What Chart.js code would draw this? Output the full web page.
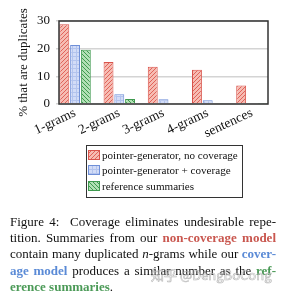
<!DOCTYPE html>
<html>
<head>
<meta charset="utf-8">
<script src="https://cdn.jsdelivr.net/npm/chart.js@4/dist/chart.umd.min.js"></script>
<style>
    body { margin: 0; width: 284px; height: 300px; background: #fff; position: relative; overflow: hidden;
           font-family: 'Liberation Serif', serif; color: #111; }
    #chartBox { position: absolute; left: 0; top: 0; width: 284px; height: 142px; }
    #legend { position: absolute; left: 86px; top: 145px; width: 154px; height: 50px; border: 1px solid #333;
              padding: 1px 0 0 1px; font-size: 11.1px; }
    #legend .row { display: flex; align-items: center; height: 15.5px; white-space: nowrap; }
    #legend canvas { margin-right: 2px; }
    #caption { position: absolute; left: 10px; top: 214px; width: 266px; font-size: 13px; line-height: 16.2px; }
    #caption div { text-align: justify; text-align-last: justify; white-space: nowrap; }
    #caption div.last { text-align-last: left; }
    .red { color: #c9574f; font-weight: bold; }
    .blue { color: #5a8ad6; font-weight: bold; }
    .green { color: #4b9a57; font-weight: bold; }
    #mark { position: absolute; left: 151px; top: 268px; font: 13px 'Noto Sans CJK SC', sans-serif; line-height: 1;
            color: rgba(255,255,255,0.55); -webkit-text-stroke: 0.6px rgba(110,110,110,0.5); white-space: nowrap; }
</style>
</head>
<body>
<div id="chartBox"><canvas id="chart"></canvas></div>
<div id="legend"></div>
<div id="caption">
    <div>Figure 4:&nbsp; Coverage eliminates undesirable repe-</div>
    <div>tition. Summaries from our <span class="red">non-coverage model</span></div>
    <div>contain many duplicated <i>n</i>-grams while our <span class="blue">cover-</span></div>
    <div><span class="blue">age model</span> produces a similar number as the <span class="green">ref-</span></div>
    <div class="last"><span class="green">erence summaries</span>.</div>
</div>
<div id="mark">知乎 @DengBoCong</div>
<script>
// data
const categories = ['1-grams', '2-grams', '3-grams', '4-grams', 'sentences'];
const noCoverage = [28.8, 15.2, 13.5, 12.4, 6.7];
const withCoverage = [21.3, 3.5, 1.7, 1.4, 0.2];
const reference = [19.6, 1.8, 0.3, 0.2, 0.1];
const yTicks = [0, 10, 20, 30];

const seriesNames = ['pointer-generator, no coverage', 'pointer-generator + coverage', 'reference summaries'];

function hatch(bg, line, kind) {
    const c = document.createElement('canvas');
    c.width = 4; c.height = 4;
    const g = c.getContext('2d');
    g.fillStyle = bg;
    g.fillRect(0, 0, 4, 4);
    g.strokeStyle = line;
    g.lineWidth = 1;
    g.beginPath();
    if (kind === 'grid') {
        g.moveTo(0, 0.5); g.lineTo(4, 0.5);
        g.moveTo(0.5, 0); g.lineTo(0.5, 4);
    } else if (kind === 'up') {
        g.moveTo(-1, 5); g.lineTo(5, -1);
        g.moveTo(-1, 1); g.lineTo(1, -1);
        g.moveTo(3, 5); g.lineTo(5, 3);
    } else {
        g.moveTo(-1, -1); g.lineTo(5, 5);
        g.moveTo(3, -1); g.lineTo(5, 1);
        g.moveTo(-1, 3); g.lineTo(1, 5);
    }
    g.stroke();
    return g.createPattern(c, 'repeat');
}

const fills = [
    hatch('#f6bcb3', '#e0645a', 'up'),
    hatch('#d2dcf7', '#b3c4ee', 'grid'),
    hatch('#b2e0b5', '#3f9a4f', 'down')
];
const borders = ['#d9544c', '#6f8fd8', '#3f9a4f'];
const values = [noCoverage, withCoverage, reference];

const framePlugin = {
    id: 'frame',
    afterDatasetsDraw(chart) {
        const { ctx, chartArea: a } = chart;
        ctx.save();
        ctx.strokeStyle = '#333';
        ctx.lineWidth = 1.5;
        ctx.strokeRect(a.left, a.top, a.right - a.left, a.bottom - a.top);
        ctx.restore();
    }
};

const serif = "'Liberation Serif', serif";

const chart = new Chart(document.getElementById('chart'), {
    type: 'bar',
    data: {
        labels: categories,
        datasets: values.map((vals, i) => ({
            label: seriesNames[i],
            data: vals.map((v, j) => ({ x: j, y: v })),
            backgroundColor: fills[i],
            borderColor: borders[i],
            borderWidth: 1,
            categoryPercentage: 0.73,
            barPercentage: 0.92
        }))
    },
    options: {
        responsive: true,
        maintainAspectRatio: false,
        animation: false,
        layout: { padding: { top: 21, right: 16, left: 16, bottom: 0 } },
        plugins: {
            legend: { display: false },
            tooltip: { enabled: false }
        },
        scales: {
            x: {
                type: 'linear',
                min: -0.3636,
                max: 4.3636,
                offset: false,
                grid: { display: false },
                border: { display: false },
                afterBuildTicks: scale => { scale.ticks = categories.map((_, i) => ({ value: i })); },
                afterFit: scale => { scale.height = 38; scale.paddingLeft = 0; scale.paddingRight = 0; },
                ticks: {
                    autoSkip: false,
                    minRotation: 25,
                    maxRotation: 25,
                    padding: -7,
                    color: '#111',
                    font: { family: serif, size: 13.5 },
                    callback: v => categories[v]
                }
            },
            y: {
                min: 0,
                max: 30,
                afterBuildTicks: scale => { scale.ticks = yTicks.map(v => ({ value: v })); },
                afterFit: scale => { scale.width = 43; },
                border: { display: false },
                grid: { color: '#d4d4d4', lineWidth: 1.5, tickLength: 3 },
                ticks: {
                    color: '#111',
                    padding: 6,
                    font: { family: serif, size: 13 }
                },
                title: {
                    display: true,
                    text: '% that are duplicates',
                    color: '#111',
                    padding: { top: 0, bottom: 0 },
                    font: { family: serif, size: 13 }
                }
            }
        }
    },
    plugins: [framePlugin]
});

// legend built from the datasets
const legendEl = document.getElementById('legend');
chart.data.datasets.forEach(ds => {
    const row = document.createElement('div');
    row.className = 'row';
    const sw = document.createElement('canvas');
    sw.width = 12; sw.height = 10;
    const g = sw.getContext('2d');
    g.fillStyle = ds.backgroundColor;
    g.fillRect(0, 0, 12, 10);
    g.strokeStyle = ds.borderColor;
    g.strokeRect(0.5, 0.5, 11, 9);
    row.appendChild(sw);
    const label = document.createElement('span');
    label.textContent = ds.label;
    row.appendChild(label);
    legendEl.appendChild(row);
});
</script>
</body>
</html>
